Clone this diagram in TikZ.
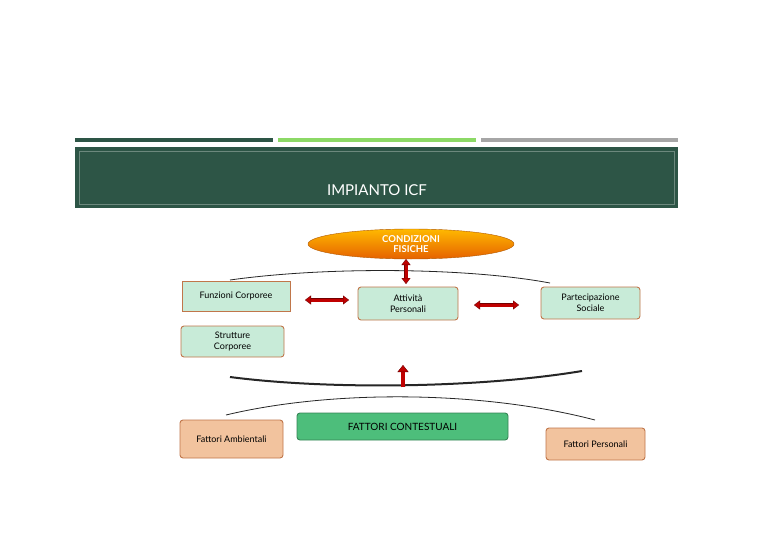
\documentclass[tikz,border=0pt]{standalone}
\usepackage{fontspec}
\setmainfont{Lato}
\usetikzlibrary{shapes.geometric,arrows.meta}
\definecolor{hdr}{HTML}{2D5546}
\definecolor{bx}{HTML}{C8EBD8}
\definecolor{bxb}{HTML}{C0764A}
\definecolor{orb}{HTML}{F2C39E}
\definecolor{ctx}{HTML}{4DBE7B}
\definecolor{arr}{HTML}{C00000}
\tikzset{
  box/.style={draw=bxb,line width=0.9pt,fill=bx,rounded corners=3pt,align=center,font=\fontsize{9}{10.5}\selectfont,inner sep=0pt},
  obox/.style={box,fill=orb},
  arc/.style={draw=black!85,line width=0.8pt},
  darr/.style={draw=arr!60!black,fill=arr,line width=0.4pt,-{},double=arr,double distance=3pt,{Triangle[length=6pt,width=9pt,fill=arr]}-{Triangle[length=6pt,width=9pt,fill=arr]}},
  uarr/.style={draw=arr!60!black,line width=0.4pt,double=arr,double distance=4pt,-{Triangle[length=7pt,width=11pt,fill=arr]}}
}
\begin{document}
\begin{tikzpicture}[x=1pt,y=-1pt]
\useasboundingbox (0,0) rectangle (768,543);
\fill[white] (0,0) rectangle (768,543);
\fill[hdr] (75,138) rectangle (273,142);
\fill[green!50!olive!60!white] (278,138) rectangle (476,142);
\fill[black!35] (481,138) rectangle (678,142);
\fill[hdr] (75,147) rectangle (678,208);
\draw[hdr!70!white,line width=0.8pt] (79,151) rectangle (674,204);
\node[text=white,font=\fontsize{15}{17}\selectfont] (title) at (377,190) {IMPIANTO ICF};
% arcs
\draw[arc] (230,280) .. controls (330,266) and (470,268) .. (550,283);
\draw[arc,line width=2pt] (230,377) .. controls (330,390) and (480,388) .. (582,371);
\draw[arc] (226,415) .. controls (330,390) and (480,390) .. (595,420);
% ellipse
\node[ellipse,minimum width=206pt,minimum height=30pt,top color=orange!55!yellow,bottom color=orange!85!red!90!black,draw=orange!70!black,line width=0.4pt,text=white,align=center,inner sep=0pt,font=\bfseries\fontsize{9.5}{10}\selectfont] (cf) at (411,244) {CONDIZIONI\\FISICHE};
% boxes
\node[box,rounded corners=0pt,minimum width=108pt,minimum height=30pt] (fc) at (236,296) {Funzioni Corporee};
\node[box,minimum width=100pt,minimum height=33pt] (ap) at (408,303.5) {Attività\\Personali};
\node[box,minimum width=99pt,minimum height=32pt] (ps) at (590.5,303) {Partecipazione\\Sociale};
\node[box,minimum width=103pt,minimum height=31pt] (sc) at (232.5,341.5) {Strutture\\Corporee};
\node[box,fill=ctx,draw=ctx!70!black,minimum width=211pt,minimum height=27pt,font=\fontsize{10}{11}\selectfont] (fct) at (402.5,426.5) {FATTORI CONTESTUALI};
\node[obox,minimum width=103pt,minimum height=38pt] (fa) at (231.5,439) {Fattori Ambientali};
\node[obox,minimum width=99pt,minimum height=32pt] (fp) at (595.5,444) {Fattori Personali};
% arrows
\coordinate (a1) at (305,300); \coordinate (a2) at (349,300);
\coordinate (b1) at (474,305); \coordinate (b2) at (519,305);
\coordinate (c1) at (406,259); \coordinate (c2) at (406,284);
\coordinate (u1) at (403,387); \coordinate (u2) at (403,365);
\draw[darr] (a1) -- (a2);
\draw[darr] (b1) -- (b2);
\draw[darr] (c1) -- (c2);
\draw[uarr] (u1) -- (u2);
\end{tikzpicture}
\end{document}
